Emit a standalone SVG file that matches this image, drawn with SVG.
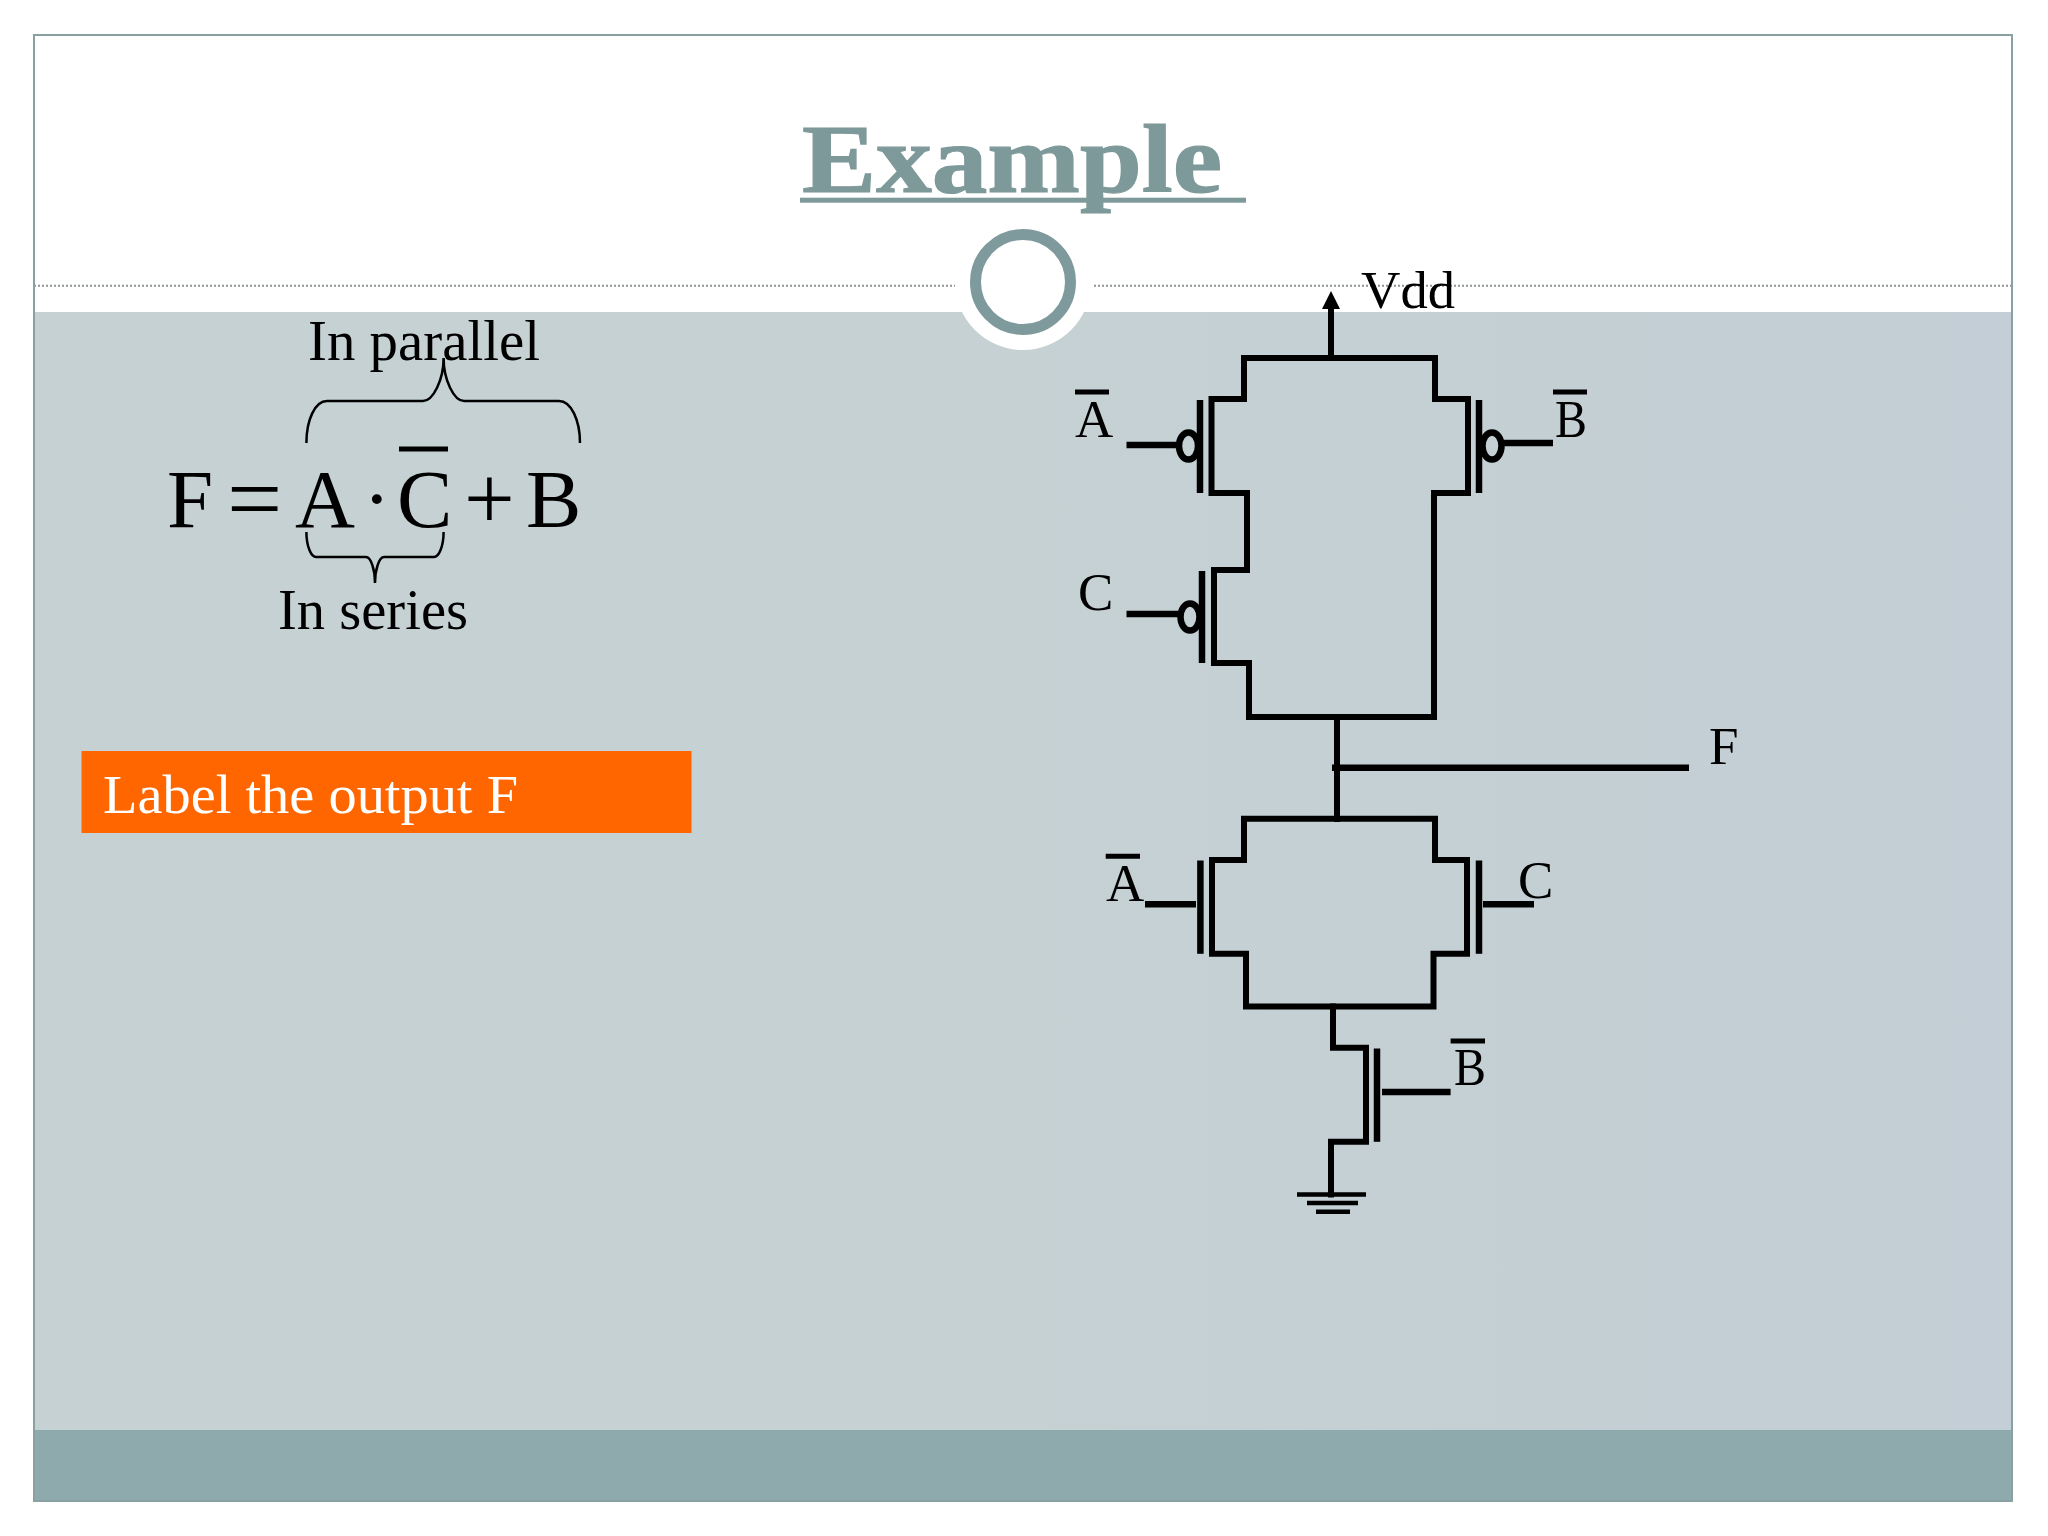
<svg xmlns="http://www.w3.org/2000/svg" width="2048" height="1536" viewBox="0 0 2048 1536">
<defs>
<linearGradient id="panel" x1="0" y1="0" x2="1" y2="0"><stop offset="0" stop-color="#c6d1d3"/><stop offset="0.5" stop-color="#c5d1d3"/><stop offset="1" stop-color="#c4ced6"/></linearGradient>
<marker id="arrow" markerUnits="userSpaceOnUse" markerWidth="20" markerHeight="20" refX="0" refY="9" orient="auto"><path d="M0 0L18 9L0 18Z" fill="#000"/></marker>
</defs>
<style>
text{font-family:"Liberation Serif","Times New Roman",serif;fill:#000}
.wire{fill:none;stroke:#000;stroke-width:6;stroke-linecap:square;stroke-linejoin:miter}
.gate{fill:none;stroke:#000;stroke-width:6.5}
.input{fill:none;stroke:#000;stroke-width:6.5}
.bar{fill:none;stroke:#000;stroke-width:5}
.brace{fill:none;stroke:#000;stroke-width:2.5}
.lbl{font-size:53px}
.note{font-size:56px}
.eq{font-size:83px}
</style>
<rect width="2048" height="1536" fill="#fff"/>
<g id="slide">
<rect x="34" y="312" width="1978" height="1118" fill="url(#panel)"/>
<rect x="34" y="1430" width="1978" height="71" fill="#8faaac"/>
<path d="M34 285.700L955 285.700M1094 285.700L2012 285.700" stroke="#8c9494" stroke-width="2" stroke-dasharray="2 2"/>
<circle cx="1023" cy="282" r="68" fill="#fff"/>
<circle cx="1023" cy="282" r="47.5" fill="#fff" stroke="#7f9a9d" stroke-width="11"/>
<rect x="34" y="35" width="1978" height="1466" fill="none" stroke="#88a2a2" stroke-width="2"/>
</g>
<g id="title">
<text x="802" y="192" font-size="97" font-weight="bold" textLength="420" lengthAdjust="spacingAndGlyphs" style="fill:#7e9999;stroke:#7e9999;stroke-width:1.2">Example</text>
<rect x="800" y="197.7" width="446" height="5" fill="#7e9999"/>
</g>
<g id="equation">
<text class="eq" y="527"><tspan x="167">F</tspan><tspan x="227" dy="4" font-size="98">=</tspan><tspan x="295" dy="-4">A</tspan><tspan x="363">·</tspan><tspan x="397">C</tspan><tspan x="464" dy="2" font-size="90">+</tspan><tspan x="526" dy="-2">B</tspan></text>
<line class="bar" x1="399" y1="449" x2="448" y2="449"/>
<path class="brace" d="M306.400 443C306.400 420 315 401 327 401L423 401C433 401 443.600 380 443.600 358C443.600 380 454 401 464 401L559 401C571 401 580 420 580 443"/>
<path class="brace" d="M306.400 532C306.400 546 311 557 316 557L366 557C371 557 375 570 375 583C375 570 379 557 384 557L434 557C439 557 443.600 546 443.600 532"/>
<text class="note" x="308" y="360" textLength="232" lengthAdjust="spacingAndGlyphs">In parallel</text>
<text class="note" x="278" y="629" textLength="190" lengthAdjust="spacingAndGlyphs">In series</text>
</g>
<g id="task">
<rect x="81.500" y="751" width="610" height="82" fill="#ff6600"/>
<text x="103" y="813" font-size="54" textLength="415" lengthAdjust="spacingAndGlyphs" style="fill:#fff">Label the output F</text>
</g>
<g id="connectors">
<path class="wire" d="M1331 358L1331 309" marker-end="url(#arrow)"/>
<path class="wire" d="M1244 358L1435 358M1244 358L1244 399L1211.500 399L1211.500 493L1247 493L1247 570L1214 570L1214 663L1249 663L1249 717L1434 717M1435 358L1435 399L1468 399L1468 493L1434 493L1434 717"/>
<path class="wire" d="M1337 717L1337 819"/>
<path class="input" d="M1332 767.800L1689 767.800"/>
<path class="wire" d="M1244 818.800L1435 818.800M1244 818.800L1244 860L1212 860L1212 953.800L1246 953.800L1246 1006.500L1433.500 1006.500M1435 818.800L1435 860L1467 860L1467 953.800L1433.500 953.800L1433.500 1006.500"/>
<path class="wire" d="M1333 1006.500L1333 1047.800L1366 1047.800L1366 1141.800L1331 1141.800L1331 1194.500"/>
<path class="input" d="M1126.500 445L1176 445M1504 443L1553 443M1126.500 614L1178 614M1145 904.200L1196 904.200M1483 904.200L1534 904.200M1382 1091.900L1450.600 1091.900"/>
</g>
<g id="vdd"><text class="lbl" x="1361" y="308" textLength="94" lengthAdjust="spacingAndGlyphs">Vdd</text></g>
<g id="pmos-a">
<line class="gate" x1="1200" y1="400" x2="1200" y2="493"/>
<ellipse class="gate" cx="1188.500" cy="446" rx="9.500" ry="13.500"/>
<text class="lbl" x="1075" y="437">A</text><line class="bar" x1="1075" y1="392" x2="1109" y2="392"/>
</g>
<g id="pmos-b">
<line class="gate" x1="1479" y1="400" x2="1479" y2="493"/>
<ellipse class="gate" cx="1492" cy="446" rx="9.500" ry="13.500"/>
<text class="lbl" x="1555" y="437" textLength="32" lengthAdjust="spacingAndGlyphs">B</text><line class="bar" x1="1553" y1="392" x2="1587" y2="392"/>
</g>
<g id="pmos-c">
<line class="gate" x1="1202" y1="571" x2="1202" y2="663"/>
<ellipse class="gate" cx="1190" cy="617" rx="9.500" ry="13.500"/>
<text class="lbl" x="1078" y="610">C</text>
</g>
<g id="output"><text class="lbl" x="1709" y="763.700">F</text></g>
<g id="nmos-a">
<line class="gate" x1="1200.400" y1="860.500" x2="1200.400" y2="953.800"/>
<text class="lbl" x="1106" y="901.400">A</text><line class="bar" x1="1105.700" y1="856.300" x2="1140" y2="856.300"/>
</g>
<g id="nmos-c">
<line class="gate" x1="1479" y1="860.500" x2="1479" y2="953.800"/>
<text class="lbl" x="1518" y="898">C</text>
</g>
<g id="nmos-b">
<line class="gate" x1="1377" y1="1048.500" x2="1377" y2="1141.800"/>
<text class="lbl" x="1454" y="1084.600" textLength="32" lengthAdjust="spacingAndGlyphs">B</text><line class="bar" x1="1450.600" y1="1041" x2="1485" y2="1041"/>
</g>
<g id="ground">
<path d="M1297 1194.500L1366 1194.500M1307 1203L1358 1203M1316 1211.700L1350 1211.700" fill="none" stroke="#000" stroke-width="4.500"/>
</g>
</svg>
